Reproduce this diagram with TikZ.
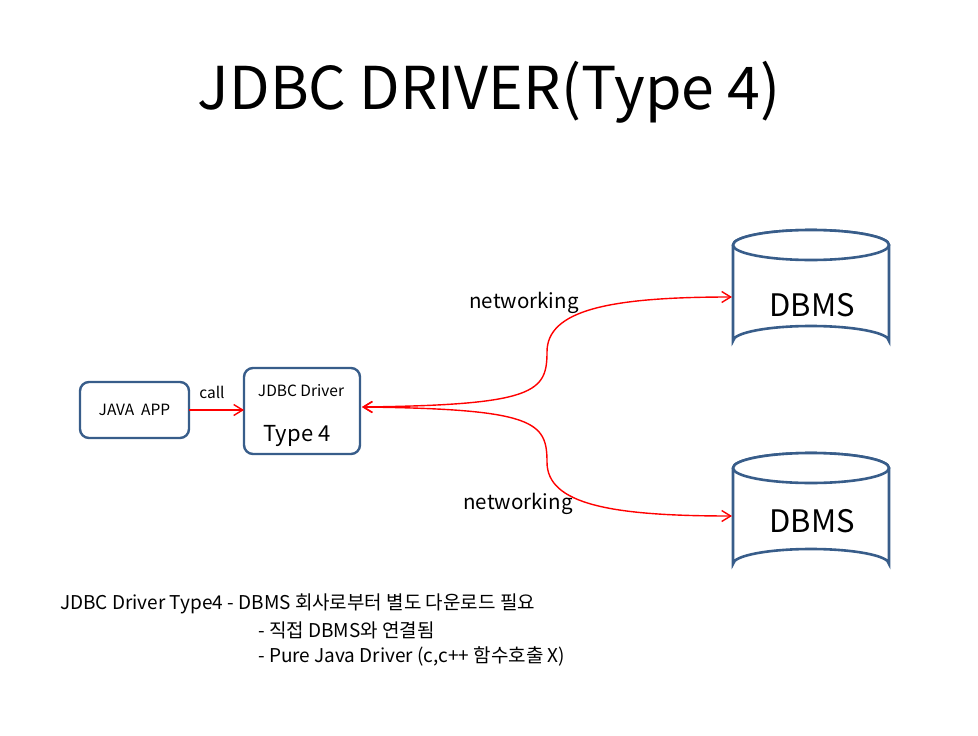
\documentclass[tikz,border=0pt]{standalone}
\usepackage{fontspec}
\setmainfont{Noto Sans CJK KR}
\usetikzlibrary{arrows.meta}
\definecolor{edge}{RGB}{56,93,138}
\begin{document}
\begin{tikzpicture}[x=1pt,y=-1pt,
  >={Straight Barb[length=9pt,width=11pt,line width=1.4pt]},
  box/.style={draw=edge, line width=2.4pt, rounded corners=9pt},
  db/.style={draw=edge, line width=2.6pt, fill=white},
  link/.style={red, line width=1.4pt, <->}]
\useasboundingbox (0,0) rectangle (978,736);
\node at (489,92) {\fontsize{59}{64}\selectfont JDBC DRIVER(Type 4)};
% boxes
\draw[box] (80,382) rectangle (189,438);
\node (app) at (134.5,410) {\fontsize{15.5}{18}\selectfont JAVA\ \ APP};
\coordinate (appe) at (189,410);
\draw[box] (244,368) rectangle (360,454);
\node at (301,391) {\fontsize{15.5}{18}\selectfont JDBC Driver};
\node at (297,436) {\fontsize{22}{26}\selectfont Type 4};
\coordinate (drvw) at (244,410);
\coordinate (drve) at (362,407);
% databases
\foreach \n/\t/\b in {db1/245/341, db2/468/564}{
  \draw[db] (733,\t) -- (733,\b) arc[start angle=180,end angle=360,x radius=78,y radius=15] -- (889,\t)
     arc[start angle=0,end angle=-180,x radius=78,y radius=15];
  \draw[db] (811,\t) ellipse[x radius=78,y radius=15];
}
\node at (812,305) {\fontsize{31}{36}\selectfont DBMS};
\node at (812,521) {\fontsize{31}{36}\selectfont DBMS};
\coordinate (d1) at (732,297);
\coordinate (d2) at (732,516);
% connectors
\draw[red, line width=1.4pt, ->] (appe) -- (drvw);
\node at (212,392) {\fontsize{15.5}{18}\selectfont call};
\draw[link] (drve) .. controls (535,405) and (547,392) .. (547,352)
   .. controls (547,310) and (610,297) .. (d1);
\draw[link] (drve) .. controls (535,409) and (547,422) .. (547,462)
   .. controls (547,504) and (610,516) .. (d2);
\node at (524,303) {\fontsize{20.5}{24}\selectfont networking};
\node at (518,504) {\fontsize{20.5}{24}\selectfont networking};
% notes
\node[anchor=west,inner sep=0] at (60,604) {\fontsize{19}{22}\selectfont JDBC Driver Type4 - DBMS 회사로부터 별도 다운로드 필요};
\node[anchor=west,inner sep=0] at (258,630) {\fontsize{19}{22}\selectfont - 직접 DBMS와 연결됨};
\node[anchor=west,inner sep=0] at (258,656) {\fontsize{19}{22}\selectfont - Pure Java Driver (c,c++ 함수호출 X)};
\end{tikzpicture}
\end{document}
